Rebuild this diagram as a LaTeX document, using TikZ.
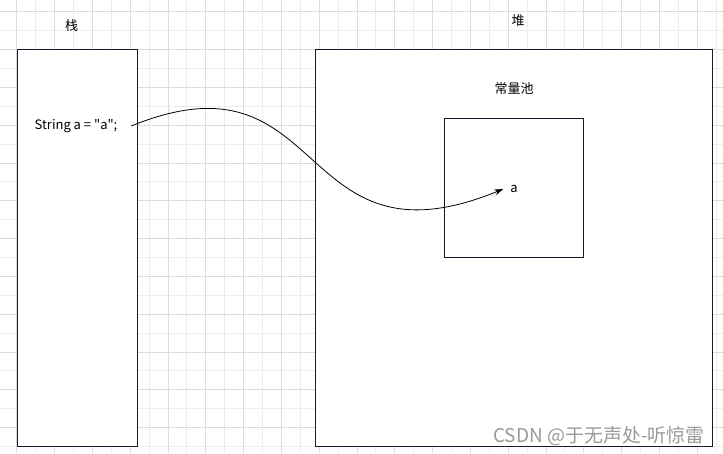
\documentclass[tikz,border=0pt]{standalone}
\usepackage{fontspec}
\setmainfont{Noto Sans CJK SC}[Ligatures=TeXOff]
\usetikzlibrary{arrows.meta, positioning}
\definecolor{GridLight}{HTML}{EDEDED}
\definecolor{GridDark}{HTML}{DCDCDC}
\definecolor{BoxNavy}{HTML}{1A1A2E}
\definecolor{MarkGray}{HTML}{9A9A9A}

\begin{document}
\begin{tikzpicture}[x=1pt, y=-1pt,
    region/.style={draw=BoxNavy, fill=white, line width=0.9pt, anchor=north west, inner sep=0pt},
    caption/.style={font=\fontsize{13}{15}\selectfont, text=black, inner sep=0pt}]
                    \useasboundingbox (0,0) rectangle (723,453);
                    \fill[white] (0,0) rectangle (723,453);
                    
                    % grid paper
                    \foreach \gx in {35.6,73.4,...,723} \draw[GridLight, line width=0.8pt] (\gx,0) -- (\gx,453);
                    \foreach \gy in {30.6,68.4,...,453} \draw[GridLight, line width=0.8pt] (0,\gy) -- (723,\gy);
                    \foreach \gx in {16.7,54.5,...,723} \draw[GridDark, line width=0.8pt] (\gx,0) -- (\gx,453);
                    \foreach \gy in {11.7,49.5,...,453} \draw[GridDark, line width=0.8pt] (0,\gy) -- (723,\gy);
                    
                    \node[region, minimum width=120pt, minimum height=397pt] (stack) at (16.7,49) {};
                    \node[caption] (stacklabel) at (71.5,26) {栈};
                    
                    \node[region, minimum width=397.3pt, minimum height=397pt] (heap) at (315,49) {};
                    \node[caption] (heaplabel) at (518,20.5) {堆};
                    
                    \node[region, minimum width=139pt, minimum height=139pt] (pool) at (444.3,118.3) {};
                    \node[caption] (poollabel) at (514,89) {常量池};
                    
                    \node[caption, minimum width=110pt] (code) at (76,126) {String a = "a";};
                    \node[caption, minimum width=21pt] (val) at (514,189) {a};
                    \draw[-{Stealth[length=9pt, width=6pt]}, line width=0.8pt] (code.east) .. controls (330,45) and (293,275) .. (val.west);
                    
                    \node[font=\fontsize{19}{21}\selectfont, text=MarkGray, inner sep=0pt] (mark) at (599,436) {CSDN @于无声处-听惊雷};
\end{tikzpicture}
\end{document}
